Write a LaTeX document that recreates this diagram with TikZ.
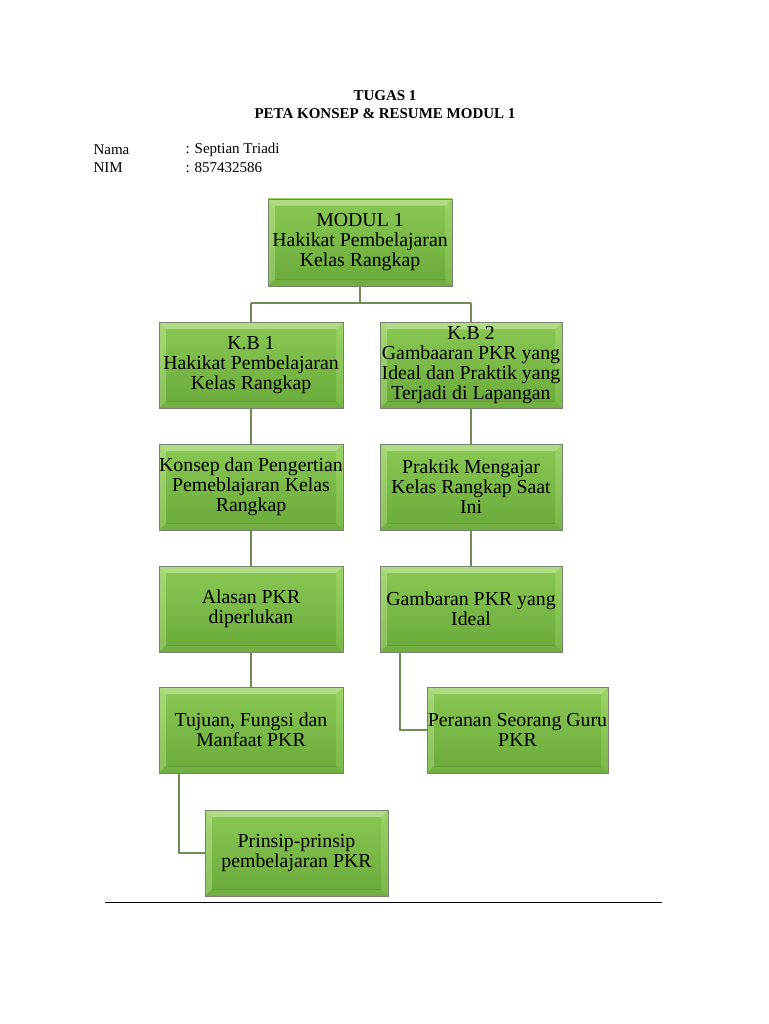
\documentclass[tikz,border=0pt]{standalone}
\usepackage{fontspec}
\setmainfont{Liberation Serif}
\begin{document}
\begin{tikzpicture}[x=1pt,y=-1pt,
  conn/.style={draw={rgb,255:red,112;green,140;blue,88},line width=1.2pt},
  boxbase/.style={draw={rgb,255:red,120;green,130;blue,110},line width=0.8pt,
    top color={rgb,255:red,155;green,212;blue,100},bottom color={rgb,255:red,120;green,185;blue,70}},
  boxin/.style={top color={rgb,255:red,135;green,198;blue,82},bottom color={rgb,255:red,108;green,172;blue,60}},
  lbl/.style={align=center,font=\fontsize{19.8}{20}\selectfont,text=black},
  hdr/.style={font=\fontsize{15}{17}\selectfont\bfseries},
  info/.style={font=\fontsize{15}{17}\selectfont,anchor=west}]
\useasboundingbox (0,0) rectangle (768,1024);
\fill[white] (0,0) rectangle (768,1024);
% header
\node[hdr] (t1) at (385,96) {TUGAS 1};
\node[hdr] (t2) at (385,114) {PETA KONSEP \& RESUME MODUL 1};
\node[info] (n1) at (90,150) {Nama};
\node[info] (n2) at (182,150) {: Septian Triadi};
\node[info] (m1) at (90,168) {NIM};
\node[info] (m2) at (182,168) {: 857432586};
\newcommand{\gbox}[6]{% name, x1,y1,x2,y2, text
  \shade[boxbase] (#2,#3) rectangle (#4,#5);
  \shade[boxin] (#2+7,#3+7) rectangle (#4-7,#5-7);
  \fill[white,opacity=0.22] (#2,#3) -- (#4,#3) -- (#4-7,#3+7) -- (#2+7,#3+7) -- cycle;
  \fill[white,opacity=0.12] (#2,#3) -- (#2+7,#3+7) -- (#2+7,#5-7) -- (#2,#5) -- cycle;
  \fill[black,opacity=0.06] (#2,#5) -- (#2+7,#5-7) -- (#4-7,#5-7) -- (#4,#5) -- cycle;
  \draw[draw={rgb,255:red,120;green,130;blue,110},line width=0.8pt] (#2,#3) rectangle (#4,#5);
  \node[lbl,minimum width=#4-#2,minimum height=#5-#3,inner sep=0pt] (#1) at ({(#2+#4)/2},{(#3+#5)/2}) {#6};
}
\coordinate (j0) at (360,303);
\coordinate (jl) at (251,303);
\coordinate (jr) at (471,303);
\coordinate (c1) at (400,730);
\coordinate (c2) at (179,853);
\gbox{modul}{268}{199}{452}{286}{MODUL 1\\Hakikat Pembelajaran\\Kelas Rangkap}
\gbox{kb1}{159}{322}{343}{408}{K.B 1\\Hakikat Pembelajaran\\Kelas Rangkap}
\gbox{kb2}{380}{322}{562}{408}{K.B 2\\Gambaaran PKR yang\\Ideal dan Praktik yang\\Terjadi di Lapangan}
\gbox{konsep}{159}{444}{343}{530}{Konsep dan Pengertian\\Pemeblajaran Kelas\\Rangkap}
\gbox{praktik}{380}{444}{562}{530}{Praktik Mengajar\\Kelas Rangkap Saat\\Ini}
\gbox{alasan}{159}{566}{343}{652}{Alasan PKR\\diperlukan}
\gbox{gambaran}{380}{566}{562}{652}{Gambaran PKR yang\\Ideal}
\gbox{tujuan}{159}{687}{343}{773}{Tujuan, Fungsi dan\\Manfaat PKR}
\gbox{peranan}{427}{687}{608}{773}{Peranan Seorang Guru\\PKR}
\gbox{prinsip}{205}{810}{388}{896}{Prinsip-prinsip\\pembelajaran PKR}
\draw[conn] (modul.south) -- (j0) (jl) -- (jr);
\draw[conn] (jl) -- (kb1.north);
\draw[conn] (jr) -- (kb2.north);
\draw[conn] (kb1.south) -- (konsep.north);
\draw[conn] (konsep.south) -- (alasan.north);
\draw[conn] (alasan.south) -- (tujuan.north);
\draw[conn] (kb2.south) -- (praktik.north);
\draw[conn] (praktik.south) -- (gambaran.north);
\draw[conn] (gambaran.south -| c1) -- (c1) -- (peranan.west);
\draw[conn] (tujuan.south -| c2) -- (c2) -- (prinsip.west);
\coordinate (r1) at (105,902);
\coordinate (r2) at (662,902);
\draw[line width=0.8pt] (r1) -- (r2);
\end{tikzpicture}
\end{document}
